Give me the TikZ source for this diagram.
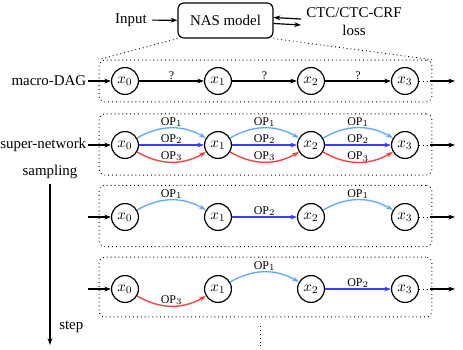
\documentclass[tikz,border=0pt]{standalone}
\usepackage{fontspec}
\setmainfont{Liberation Serif}
\usetikzlibrary{arrows.meta}
\definecolor{opLight}{RGB}{100,170,250}
\definecolor{opBlue}{RGB}{60,60,250}
\definecolor{opRed}{RGB}{250,60,60}
\begin{document}
\begin{tikzpicture}[x=0.67pt, y=-0.67pt, >={Stealth[length=4.5pt, width=3.2pt]}, every node/.style={font=\normalsize},
    var/.style={circle, draw, line width=0.8pt, minimum size=18pt, inner sep=0pt},
    frame/.style={draw, dotted, semithick, rounded corners=4pt, minimum width=223pt, inner sep=0pt},
    lbl/.style={font=\footnotesize, above, inner sep=0.3pt},
    opOne/.style={->, line width=0.9pt, draw=opLight},
    opTwo/.style={->, line width=0.9pt, draw=opBlue},
    opThree/.style={->, line width=0.9pt, draw=opRed}]

    \useasboundingbox (0,0) rectangle (463,349);

    % --- 1. x座標・y座標の基準 ---
    \def\xA{125}
    \def\xB{218}
    \def\xC{311}
    \def\xD{405}
    \def\yDag{81}
    \def\ySup{145}
    \def\ySmpA{217}
    \def\ySmpB{289}

    % --- 2. 上部: NAS model と入出力 ---
    \node[draw, line width=0.8pt, rounded corners=4pt, minimum width=63.6pt, minimum height=23.5pt] (nas) at (225.5,20.5) {NAS model};
    \node (input) at (131,20) {Input};
    \node[align=center] (loss) at (354,22) {CTC/CTC-CRF\\loss};
    \draw[->, line width=0.8pt] (input) -- (nas);
    \draw[<-, line width=0.8pt] ([yshift=2pt]nas.east) -- ([yshift=2pt]loss.west);
    \draw[->, line width=0.8pt] ([yshift=-2pt]nas.east) -- ([yshift=-2pt]loss.west);

    % --- 3. 点線の枠 ---
    \node[frame, minimum height=28pt] (F1) at (265.5,\yDag) {};
    \node[frame, minimum height=41pt] (F2) at (265.5,144.5) {};
    \node[frame, minimum height=41pt] (F3) at (265.5,216) {};
    \node[frame, minimum height=40pt] (F4) at (265.5,287) {};
    \draw[dotted, semithick] (nas.south west) -- (F1.north west);
    \draw[dotted, semithick] (nas.south east) -- (F1.north east);

    % --- 4. ノード x_0 ... x_3 と入出力の矢印 ---
    \foreach \r/\y in {A/\yDag, B/\ySup, C/\ySmpA, D/\ySmpB} {
      \foreach \i/\x in {0/\xA, 1/\xB, 2/\xC, 3/\xD}
        \node[var] (\r\i) at (\x,\y) {$x_\i$};
      \coordinate (\r-in)  at (88,\y);
      \coordinate (\r-out) at (430,\y);
      \coordinate (\r-end) at (455,\y);
      \draw[->, line width=0.8pt] (\r-in) -- (\r0);
      \draw[dotted, semithick] (\r3) -- (\r-out);
      \draw[->, line width=0.8pt] (\r-out) -- (\r-end);
    }

    % --- 5. 左側のラベルと step の矢印 ---
    \node[anchor=east, inner sep=1pt] at (A-in) {macro-DAG};
    \node[anchor=east, inner sep=1pt] at (B-in) {super-network};
    \node (smp) at (50,172) {sampling};
    \coordinate (stepEnd) at (50,345);
    \draw[->, line width=0.8pt] (smp.south) -- (stepEnd);
    \node[anchor=west] at (54,327) {step};
    \draw[dotted, semithick] (260,326) -- ++(0,21);

    % --- 6. 枝（演算） ---
    % macro-DAG: 未定の演算
    \foreach \a/\b in {0/1, 1/2, 2/3}
      \draw[->, line width=0.8pt] (A\a) -- node[lbl] {?} (A\b);

    % super-network: 全ての候補
    \foreach \a/\b in {0/1, 1/2, 2/3} {
      \draw[opOne]   (B\a) to[bend left=30]  node[lbl] {OP$_1$} (B\b);
      \draw[opTwo]   (B\a) --                node[lbl] {OP$_2$} (B\b);
      \draw[opThree] (B\a) to[bend right=30] node[lbl] {OP$_3$} (B\b);
    }

    % サンプリングされた経路
    \draw[opOne] (C0) to[bend left=30] node[lbl] {OP$_1$} (C1);
    \draw[opTwo] (C1) -- node[lbl] {OP$_2$} (C2);
    \draw[opOne] (C2) to[bend left=30] node[lbl] {OP$_1$} (C3);

    \draw[opThree] (D0) to[bend right=30] node[lbl] {OP$_3$} (D1);
    \draw[opOne]   (D1) to[bend left=30]  node[lbl] {OP$_1$} (D2);
    \draw[opTwo]   (D2) -- node[lbl] {OP$_2$} (D3);

  \end{tikzpicture}
\end{document}
